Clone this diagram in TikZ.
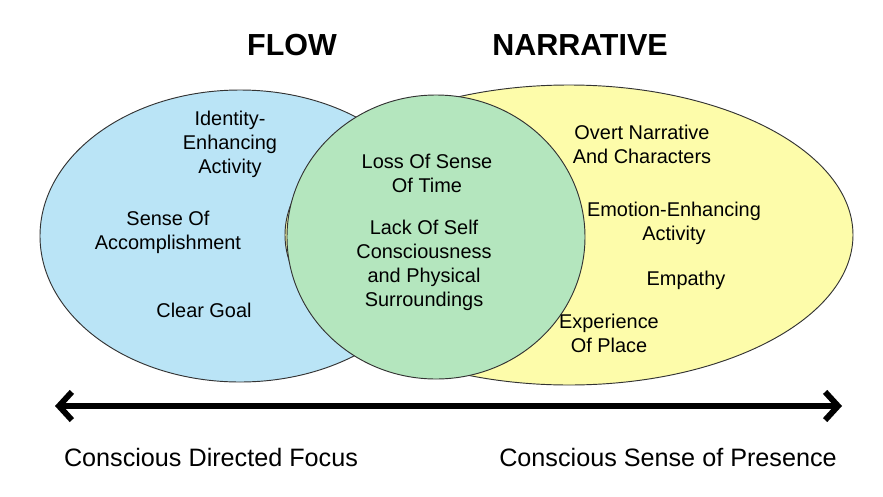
\documentclass[tikz,border=0pt]{standalone}
\usepackage{fontspec}
\setmainfont{Liberation Sans}
\usetikzlibrary{shapes.geometric,arrows.meta}
\tikzset{set node/.style={ellipse,draw=black!80,line width=0.8pt,inner sep=0pt},
  item/.style={align=center,font=\fontsize{17}{20.5}\selectfont},
  head/.style={font=\fontsize{26}{30}\selectfont\bfseries},
  axis label/.style={font=\fontsize{21.5}{24}\selectfont}}

\begin{document}
\begin{tikzpicture}[x=0.03cm,y=-0.03cm]
        \useasboundingbox (0,0) rectangle (883,496);
        % Sets
        \node[set node,fill={rgb,255:red,186;green,228;blue,246},minimum width=400*0.03cm,minimum height=292*0.03cm] (flow) at (240,236) {};
        \node[set node,fill={rgb,255:red,253;green,252;blue,170},minimum width=568*0.03cm,minimum height=300*0.03cm] (narr) at (569,235) {};
        \node[set node,fill={rgb,255:red,180;green,230;blue,190},minimum width=298*0.03cm,minimum height=284*0.03cm] (both) at (436,237) {};
        % Headings
        \node[head] (hflow) at (292,45) {FLOW};
        \node[head] (hnarr) at (580,45) {NARRATIVE};
        % Items
        \node[item] (ident) at (230,144) {Identity-\\Enhancing\\Activity};
        \node[item] (accom) at (168,232) {Sense Of\\Accomplishment};
        \node[item] (goal) at (204,310) {Clear Goal};
        \node[item] (time) at (427,173) {Loss Of Sense\\Of Time};
        \node[item] (self) at (424,265) {Lack Of Self\\Consciousness\\and Physical\\Surroundings};
        \node[item] (overt) at (642,144) {Overt Narrative\\And Characters};
        \node[item] (emot) at (674,223) {Emotion-Enhancing\\Activity};
        \node[item] (empa) at (686,280) {Empathy};
        \node[item] (place) at (609,333) {Experience\\Of Place};
        % Axis
        \coordinate (lend) at (55,406);
        \coordinate (rend) at (842,406);
        \draw[line width=5pt,{Straight Barb[length=11pt,width=24pt]}-{Straight Barb[length=11pt,width=24pt]}] (lend) -- (rend);
        \node[axis label] (lfocus) at (211,457) {Conscious Directed Focus};
        \node[axis label] (rpres) at (668,457) {Conscious Sense of Presence};
    \end{tikzpicture}
\end{document}
